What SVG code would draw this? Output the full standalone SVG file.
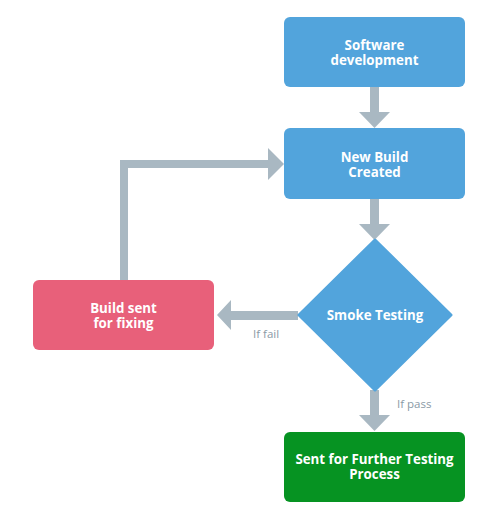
<svg xmlns="http://www.w3.org/2000/svg" width="501" height="521" viewBox="0 0 501 521">
<style>
.lbl{font-family:"Open Sans","Liberation Sans",sans-serif;font-weight:bold;font-size:13.3px;fill:#fff;text-anchor:middle}
.cond{font-family:"Open Sans","Liberation Sans",sans-serif;font-size:11.5px;fill:#8a9aa6}
.conn{fill:#a9b8c2}
</style>
<rect width="501" height="521" fill="#fff"/>
<g id="connectors" class="conn">
<polygon points="370,87 379,87 379,112 390,112 374.5,128 359,112 370,112"/>
<polygon points="370,199 379,199 379,224 390,224 374.5,240 359,224 370,224"/>
<polygon points="370,390 379,390 379,415 390,415 374.5,431 359,415 370,415"/>
<polygon points="298,311 298,320 231,320 231,330 217,315 231,300 231,311"/>
<polygon points="120,280 128,280 128,168 268,168 268,180 284,164 268,148 268,160 120,160"/>
</g>
<text class="cond" x="253" y="338">If fail</text>
<text class="cond" x="397" y="408">If pass</text>
<g id="software">
<rect x="284" y="17" width="181" height="70" rx="6" fill="#52a4dc"/>
<text class="lbl" x="374.5" y="50">Software<tspan x="374.5" dy="15">development</tspan></text>
</g>
<g id="newbuild">
<rect x="284" y="128" width="181" height="71" rx="6" fill="#52a4dc"/>
<text class="lbl" x="374.5" y="162">New Build<tspan x="374.5" dy="15">Created</tspan></text>
</g>
<g id="smoke">
<polygon points="375,240 451,315 375,390 299,315" fill="#52a4dc" stroke="#52a4dc" stroke-width="3" stroke-linejoin="round"/>
<text class="lbl" x="375" y="320">Smoke Testing</text>
</g>
<g id="fixing">
<rect x="33" y="280" width="181" height="70" rx="6" fill="#e8607a"/>
<text class="lbl" x="123.5" y="313">Build sent<tspan x="123.5" dy="15">for fixing</tspan></text>
</g>
<g id="further">
<rect x="284" y="432" width="181" height="70" rx="6" fill="#069322"/>
<text class="lbl" x="374.5" y="464">Sent for Further Testing<tspan x="374.5" dy="15">Process</tspan></text>
</g>
</svg>
